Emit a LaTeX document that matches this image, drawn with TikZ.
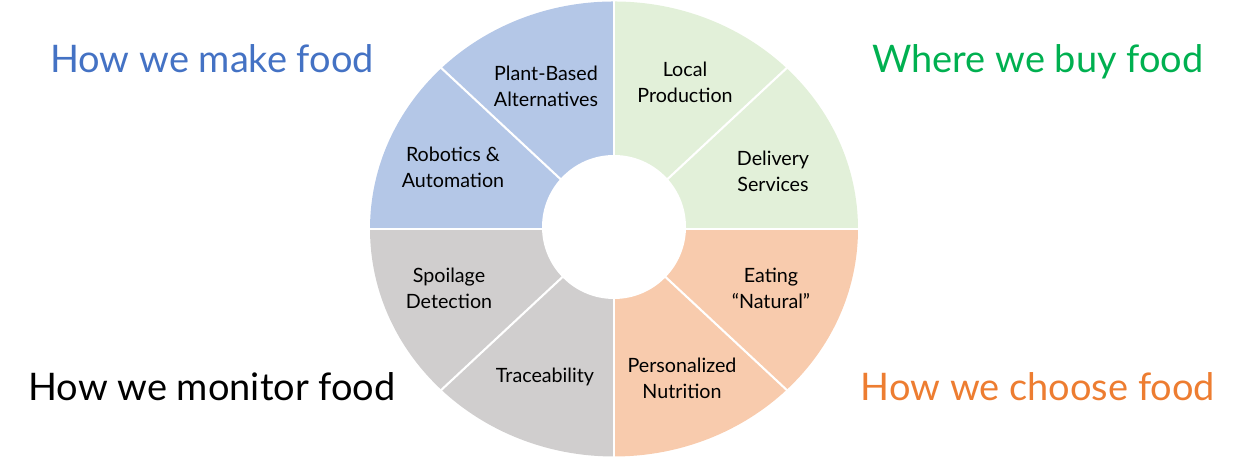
\documentclass[tikz,border=0pt]{standalone}
\usepackage{fontspec}
\setmainfont{Lato}
\definecolor{segblue}{HTML}{B4C7E7}
\definecolor{seggreen}{HTML}{E2F0D9}
\definecolor{segorange}{HTML}{F8CBAD}
\definecolor{seggray}{HTML}{D0CECE}
\definecolor{tblue}{HTML}{4472C4}
\definecolor{tgreen}{HTML}{00B050}
\definecolor{torange}{HTML}{ED7D31}
\tikzset{
  seglabel/.style={align=center, font=\fontsize{5.6pt}{7.4pt}\selectfont, inner sep=0pt},
  title/.style={font=\fontsize{10.8pt}{13pt}\selectfont, inner sep=0pt, anchor=base},
  divider/.style={white, line width=0.6pt}
}
\begin{document}
\begin{tikzpicture}[x=0.01cm, y=-0.01cm]
\useasboundingbox (0,0) rectangle (1242,459);
\coordinate (c) at (614,229);
% quadrants (y axis points down: angle 90 is downward)
\fill[segorange] (c) -- ++(0:244 and 227.5) arc[start angle=0, end angle=90, x radius=244, y radius=227.5] -- cycle;
\fill[seggray] (c) -- ++(90:244 and 227.5) arc[start angle=90, end angle=180, x radius=244, y radius=227.5] -- cycle;
\fill[segblue] (c) -- ++(180:244 and 227.5) arc[start angle=180, end angle=270, x radius=244, y radius=227.5] -- cycle;
\fill[seggreen] (c) -- ++(270:244 and 227.5) arc[start angle=270, end angle=360, x radius=244, y radius=227.5] -- cycle;
% dividers
\foreach \a in {0,90,180,270} {
  \draw[white, line width=0.75pt] (c) -- ++(\a:250 and 233);
}
\foreach \a in {45,135,225,315} {
  \draw[divider] (c) -- ++(\a:250 and 233);
}
% hole
\fill[white] (614,227) circle[radius=72];
% segment labels
\node[seglabel] (plant) at (546,86) {Plant-Based\\Alternatives};
\node[seglabel] (local) at (685,82) {Local\\Production};
\node[seglabel] (robot) at (453,167) {Robotics \&\\Automation};
\node[seglabel] (deliv) at (773,171) {Delivery\\Services};
\node[seglabel] (spoil) at (449,288) {Spoilage\\Detection};
\node[seglabel] (eat) at (771,288) {Eating\\“Natural”};
\node[seglabel] (trace) at (545,377) {Traceability};
\node[seglabel] (pers) at (682,378) {Personalized\\Nutrition};
% titles
\node[title, text=tblue] (make) at (212,73) {How we make food};
\node[title, text=tgreen] (buy) at (1038,73) {Where we buy food};
\node[title, text=black] (monitor) at (212,401) {How we monitor food};
\node[title, text=torange] (choose) at (1038,401) {How we choose food};
\end{tikzpicture}
\end{document}
